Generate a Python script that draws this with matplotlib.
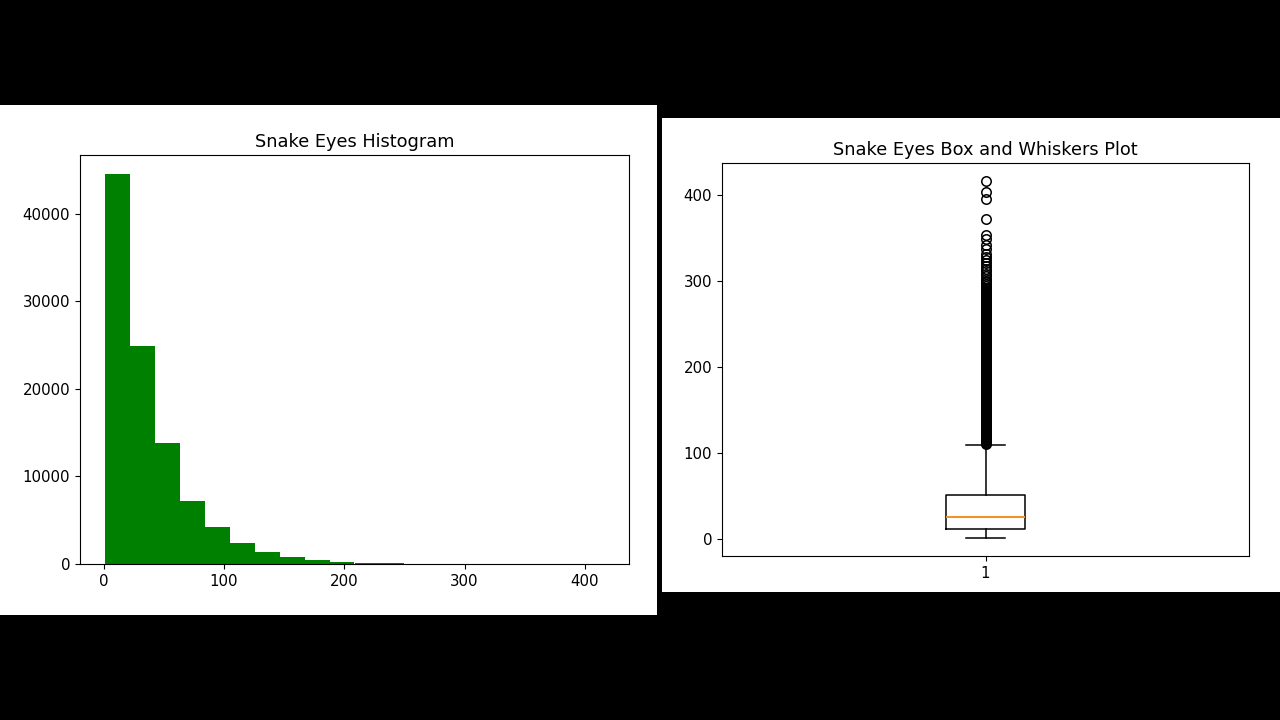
import numpy as np
import matplotlib
matplotlib.use("Agg")
import matplotlib.pyplot as plt
from matplotlib.patches import Rectangle

# histogram: 20 bins over the roll counts 1..416
bin_lo = 1
bin_hi = 416
n_bins = 20
bin_counts = [44500, 24850, 13800, 7200, 4250, 2430, 1330, 760, 420, 230,
              125, 68, 38, 21, 12, 6, 4, 2, 1, 1]

# box plot summary
box_q1 = 12
box_med = 25
box_q3 = 51
whisk_lo = 1
whisk_hi = 109
fliers = [416, 403, 395, 372, 353, 348, 342, 337, 331, 328, 324, 321, 317,
          314, 311, 308, 305, 302, 300, 298, 296, 294, 292, 290,
          289, 288, 287, 286, 285, 284, 283, 282, 281, 280,
          279, 278, 277, 276, 275, 274, 273, 272, 271, 270,
          269, 268, 267, 266, 265, 264, 263, 262, 261, 260,
          259, 258, 257, 256, 255, 254, 253, 252, 251, 250,
          249, 248, 247, 246, 245, 244, 243, 242, 241, 240,
          239, 238, 237, 236, 235, 234, 233, 232, 231, 230,
          229, 228, 227, 226, 225, 224, 223, 222, 221, 220,
          219, 218, 217, 216, 215, 214, 213, 212, 211, 210,
          209, 208, 207, 206, 205, 204, 203, 202, 201, 200,
          199, 198, 197, 196, 195, 194, 193, 192, 191, 190,
          189, 188, 187, 186, 185, 184, 183, 182, 181, 180,
          179, 178, 177, 176, 175, 174, 173, 172, 171, 170,
          169, 168, 167, 166, 165, 164, 163, 162, 161, 160,
          159, 158, 157, 156, 155, 154, 153, 152, 151, 150,
          149, 148, 147, 146, 145, 144, 143, 142, 141, 140,
          139, 138, 137, 136, 135, 134, 133, 132, 131, 130,
          129, 128, 127, 126, 125, 124, 123, 122, 121, 120,
          119, 118, 117, 116, 115, 114, 113, 112, 111, 110]

W, H = 1280, 720
fig = plt.figure(figsize=(12.8, 7.2), dpi=100, facecolor="black")

# white panels behind the two plots
fig.patches.append(Rectangle((0, 1 - 615 / H), 657 / W, 510 / H,
                             transform=fig.transFigure, facecolor="white",
                             edgecolor="none", zorder=-10))
fig.patches.append(Rectangle((662 / W, 1 - 592 / H), 618 / W, 474 / H,
                             transform=fig.transFigure, facecolor="white",
                             edgecolor="none", zorder=-10))

tick_fs = 10.8
title_fs = 12.8
lw = 1.1

# left: histogram
ax1 = fig.add_axes([80 / W, 1 - 564 / H, 549 / W, 409 / H])
edges = np.linspace(bin_lo, bin_hi, n_bins + 1)
centers = (edges[:-1] + edges[1:]) / 2
ax1.hist(centers, bins=edges, weights=bin_counts, color="green")
ax1.set_title("Snake Eyes Histogram", fontsize=title_fs)
ax1.tick_params(labelsize=tick_fs)

# right: box and whiskers
ax2 = fig.add_axes([722 / W, 1 - 556 / H, 527 / W, 393 / H])
stats = [dict(med=box_med, q1=box_q1, q3=box_q3, whislo=whisk_lo,
              whishi=whisk_hi, fliers=fliers)]
ax2.bxp(stats, widths=0.15, showfliers=True,
        boxprops=dict(linewidth=lw),
        whiskerprops=dict(linewidth=lw),
        capprops=dict(linewidth=lw),
        medianprops=dict(linewidth=1.5, color="#f0932b"),
        flierprops=dict(marker="o", markersize=6.8, markeredgewidth=1.1,
                        markerfacecolor="none", markeredgecolor="black"))
ax2.set_xlim(0.5, 1.5)
ax2.set_ylim(whisk_lo - 0.05 * (max(fliers) - whisk_lo),
             max(fliers) + 0.05 * (max(fliers) - whisk_lo))
ax2.set_yticks([0, 100, 200, 300, 400])
ax2.set_title("Snake Eyes Box and Whiskers Plot", fontsize=title_fs)
ax2.tick_params(labelsize=tick_fs)

fig.savefig("out.png", dpi=100, facecolor="black")
